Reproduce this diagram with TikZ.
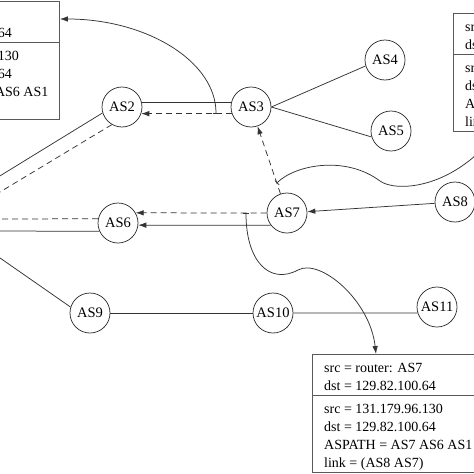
\documentclass[tikz,border=0pt]{standalone}
\usepackage{fontspec}
\setmainfont{Liberation Serif}
\usetikzlibrary{arrows.meta,calc}
\definecolor{linegray}{gray}{0.2}
\definecolor{boxgray}{gray}{0.35}
\tikzset{
  as/.style={circle, draw=linegray, line width=0.75pt, minimum size=40pt, inner sep=0pt, font=\fontsize{14.5}{17}\selectfont},
  link/.style={draw=linegray, line width=0.75pt},
  dlink/.style={link, dash pattern=on 6pt off 4pt},
  tip/.style={-{Latex[length=8pt,width=5.5pt]}},
  bartip/.style={{Bar[width=6pt]}-{Latex[length=8pt,width=5.5pt]}},
  infobox/.style={draw=boxgray, line width=0.9pt, inner sep=0pt, anchor=north west, minimum width=171pt, minimum height=118pt},
  boxtext/.style={font=\fontsize{14}{17}\selectfont, inner sep=0pt, anchor=base west},
}
\begin{document}
\begin{tikzpicture}[x=1pt,y=-1pt]
\useasboundingbox (0,0) rectangle (474,474);
\clip (0,0) rectangle (474,474);
% AS nodes
\node[as] (AS2) at (122,107) {AS2};
\node[as] (AS3) at (251,107) {AS3};
\node[as] (AS4) at (385,60) {AS4};
\node[as] (AS5) at (391,131) {AS5};
\node[as] (AS6) at (118,223) {AS6};
\node[as] (AS7) at (287,213) {AS7};
\node[as] (AS8) at (455,202) {AS8};
\node[as] (AS9) at (90,313) {AS9};
\node[as] (AS10) at (273,313) {AS10};
\node[as] (AS11) at (437,307) {AS11};
% info boxes
\node[infobox] (TL) at (-112,1) {};
\draw[draw=boxgray, line width=0.9pt] ([yshift=-41pt]TL.north west) -- ([yshift=-41pt]TL.north east);
\node[boxtext] (TL1) at (-100,19.5) {src = router: AS3};
\node[boxtext] (TL2) at (-100,37.5) {dst = 129.82.100.64};
\node[boxtext] (TL3) at (-100,60.5) {src = 131.179.96.130};
\node[boxtext] (TL4) at (-100,78.5) {dst = 129.82.100.64};
\node[boxtext] (TL5) at (-100,96.5) {ASPATH = AS7 AS6 AS1};
\node[boxtext] (TL6) at (-100,114) {link = (AS8 AS7)};
\node[infobox] (TR) at (453,13) {};
\draw[draw=boxgray, line width=0.9pt] ([yshift=-41pt]TR.north west) -- ([yshift=-41pt]TR.north east);
\node[boxtext] (TR1) at (465,31.5) {src = router: AS7};
\node[boxtext] (TR2) at (465,49.5) {dst = 129.82.100.64};
\node[boxtext] (TR3) at (465,72.5) {src = 131.179.96.130};
\node[boxtext] (TR4) at (465,90.5) {dst = 129.82.100.64};
\node[boxtext] (TR5) at (465,108.5) {ASPATH = AS7 AS6 AS1};
\node[boxtext] (TR6) at (465,126) {link = (AS8 AS7)};
\node[infobox] (BL) at (312,354) {};
\draw[draw=boxgray, line width=0.9pt] ([yshift=-41pt]BL.north west) -- ([yshift=-41pt]BL.north east);
\node[boxtext] (BL1) at (324,372.5) {src = router: AS7};
\node[boxtext] (BL2) at (324,390.5) {dst = 129.82.100.64};
\node[boxtext] (BL3) at (324,413.5) {src = 131.179.96.130};
\node[boxtext] (BL4) at (324,431.5) {dst = 129.82.100.64};
\node[boxtext] (BL5) at (324,449.5) {ASPATH = AS7 AS6 AS1};
\node[boxtext] (BL6) at (324,467) {link = (AS8 AS7)};
% free ends (towards AS1, off the picture)
\coordinate (w1) at (-10,182);
\coordinate (w2) at (-10,198);
\coordinate (w3) at (-10,219);
\coordinate (w4) at (-10,231);
\coordinate (w5) at (-10,251);
% links
\draw[link] (AS2.197) -- (w1);
\draw[dlink] (AS2.240) -- (w2);
\draw[dlink] (AS6.168) -- (w3);
\draw[link] (AS6.204) -- (w4);
\draw[link] (AS9.163) -- (w5);
\draw[link] (AS2.14) -- (AS3.166);
\draw[dlink,tip] (AS3.199) -- (AS2.341);
\draw[link] (AS3.east) -- (AS4.197);
\draw[link] (AS3.east) -- (AS5.197);
\draw[dlink,tip] (AS7.west) -- (AS6.30);
\draw[link,tip] (AS7.217) -- (AS6.354);
\draw[link,tip] (AS8) -- (AS7);
\draw[dlink,tip] (AS7) -- (AS3);
\draw[link] (AS9) -- (AS10);
\draw[link] (AS10.east) -- (AS11.197);
% notification curves
\coordinate (c1) at (216,113.5);
\coordinate (c2) at (TL.east |- 0,19);
\draw[link,bartip] (c1) .. controls (216,61) and (146,19) .. (c2);
\coordinate (c3) at ($(AS7)!0.283!(AS3)$);
\coordinate (c4) at (498,131);
\draw[link,bartip] (c3) .. controls (295,165) and (345,155) .. (380,181)
   .. controls (395,192) and (450,190) .. (c4);
\coordinate (c5) at (246,213);
\coordinate (c6) at ([xshift=64pt]BL.north west);
\draw[link,bartip] (c5) .. controls (246,262) and (270,285) .. (298,270)
   .. controls (320,258) and (370,300) .. (c6);
\end{tikzpicture}
\end{document}
